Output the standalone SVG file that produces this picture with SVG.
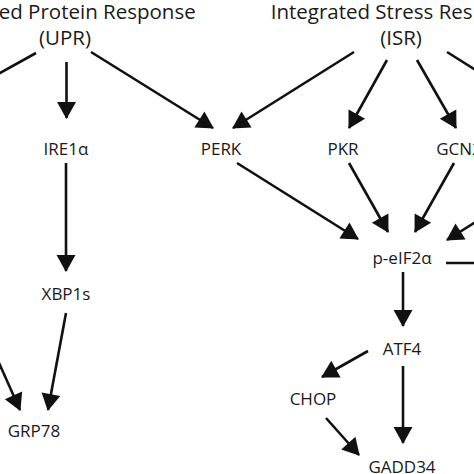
<svg xmlns="http://www.w3.org/2000/svg" width="474" height="474" viewBox="0 0 474 474">
<style>
.t{font-family:"Open Sans","Noto Sans","Liberation Sans",sans-serif;fill:#1a1a1a;text-anchor:middle}
.h{font-size:20.5px}
.n{font-size:17px}
.c line{stroke:#111;stroke-width:2.6;fill:none}
.a{marker-end:url(#ah)}
</style>
<defs>
<marker id="ah" markerUnits="userSpaceOnUse" markerWidth="18" markerHeight="20" viewBox="0 0 17 20" refX="16" refY="10" orient="auto">
<path d="M0,0.5 L17,10 L0,19.5 z" fill="#111"/>
</marker>
</defs>
<rect width="474" height="474" fill="#fff"/>
<g id="upr"><text class="t h" x="65" y="19">Unfolded Protein Response</text><text class="t h" x="65" y="45">(UPR)</text></g>
<g id="isr"><text class="t h" x="401" y="19">Integrated Stress Response</text><text class="t h" x="401" y="45">(ISR)</text></g>
<g id="ire1a"><text class="t n" x="66" y="155">IRE1α</text></g>
<g id="perk"><text class="t n" x="221" y="155">PERK</text></g>
<g id="pkr"><text class="t n" x="343" y="155">PKR</text></g>
<g id="gcn2"><text class="t n" x="459" y="155">GCN2</text></g>
<g id="xbp1s"><text class="t n" x="66" y="300">XBP1s</text></g>
<g id="peif2a"><text class="t n" x="402" y="264">p-eIF2α</text></g>
<g id="atf4"><text class="t n" x="402" y="355">ATF4</text></g>
<g id="chop"><text class="t n" x="313" y="405">CHOP</text></g>
<g id="grp78"><text class="t n" x="34" y="437">GRP78</text></g>
<g id="gadd34"><text class="t n" x="402" y="473">GADD34</text></g>
<g id="connectors" class="c">
<line x1="36" y1="53" x2="-20" y2="84"/>
<line class="a" x1="-9" y1="345" x2="20" y2="410"/>
<line class="a" x1="66" y1="313" x2="48" y2="410"/>
<line class="a" x1="66" y1="163" x2="66" y2="271"/>
<line class="a" x1="66.5" y1="62" x2="66.5" y2="118"/>
<line class="a" x1="91" y1="52" x2="213" y2="128"/>
<line class="a" x1="354" y1="52" x2="233" y2="128"/>
<line class="a" x1="387" y1="60" x2="349" y2="128"/>
<line class="a" x1="417" y1="60" x2="456" y2="128"/>
<line x1="447" y1="52" x2="490" y2="79"/>
<line class="a" x1="490" y1="213" x2="447" y2="240"/>
<line class="a" x1="237" y1="163" x2="358" y2="239"/>
<line class="a" x1="349" y1="163" x2="388" y2="232"/>
<line class="a" x1="454" y1="163" x2="415" y2="232"/>
<line x1="446" y1="263" x2="480" y2="263"/>
<line class="a" x1="403" y1="272" x2="403" y2="326"/>
<line class="a" x1="368" y1="351" x2="322" y2="377"/>
<line class="a" x1="326" y1="418" x2="359" y2="455"/>
<line class="a" x1="403" y1="366" x2="403" y2="443"/>
</g>
</svg>
